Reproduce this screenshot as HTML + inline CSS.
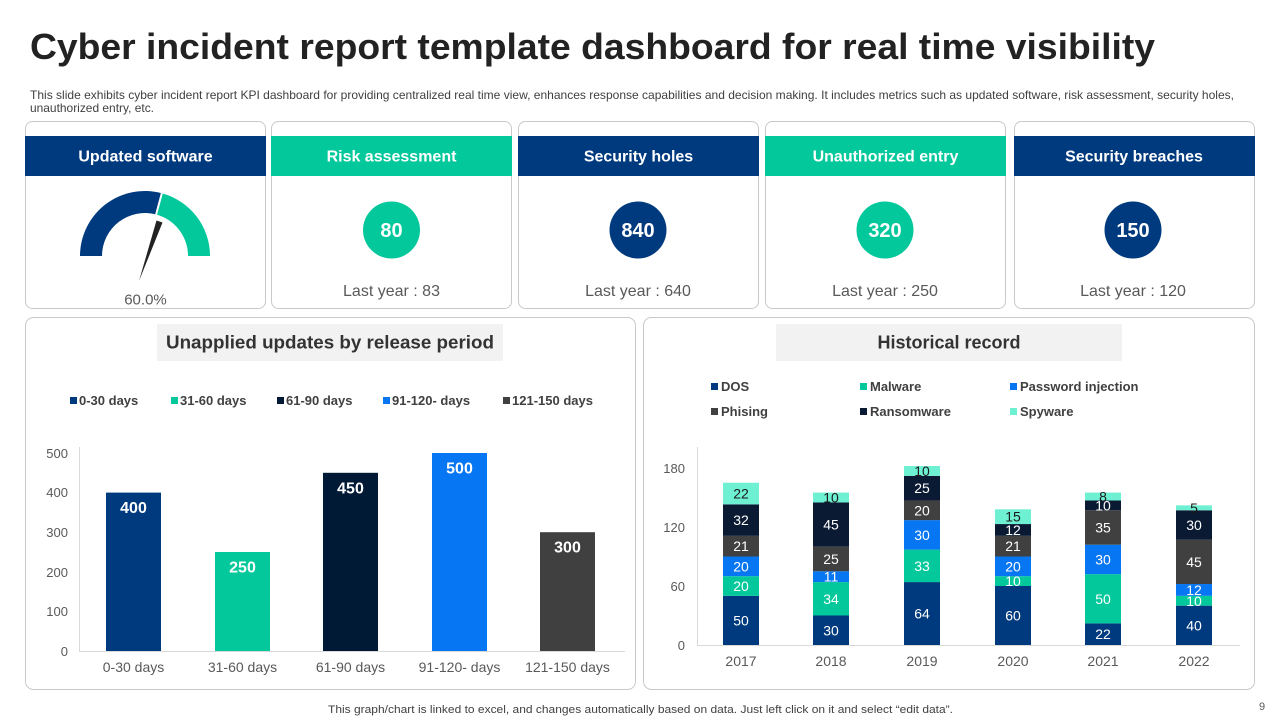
<!DOCTYPE html>
<html><head><meta charset="utf-8"><style>
html,body{margin:0;padding:0;background:#fff;}
svg{display:block;font-family:"Liberation Sans",Arial,sans-serif;}
</style></head><body>
<svg width="1280" height="720" viewBox="0 0 1280 720" xmlns="http://www.w3.org/2000/svg">
<rect width="1280" height="720" fill="#fff"/>
<!-- Title -->
<text x="30" y="59" font-size="36" font-weight="bold" fill="#222" textLength="1125" lengthAdjust="spacingAndGlyphs">Cyber incident report template dashboard for real time visibility</text>
<text x="30" y="99" font-size="12" fill="#404040" textLength="1204" lengthAdjust="spacingAndGlyphs">This slide exhibits cyber incident report KPI  dashboard for providing centralized real time view, enhances response capabilities and decision making. It includes metrics such as updated software, risk assessment, security holes,</text>
<text x="30" y="112" font-size="12" fill="#404040" textLength="124" lengthAdjust="spacingAndGlyphs">unauthorized entry,  etc.</text>

<!-- Cards -->
<g stroke="#c9c9c9" stroke-width="1" fill="#fff">
<rect x="25.5" y="121.5" width="240" height="187" rx="7"/>
<rect x="271.5" y="121.5" width="240" height="187" rx="7"/>
<rect x="518.5" y="121.5" width="240" height="187" rx="7"/>
<rect x="765.5" y="121.5" width="240" height="187" rx="7"/>
<rect x="1014.5" y="121.5" width="240" height="187" rx="7"/>
</g>
<rect x="25" y="136" width="241" height="40" fill="#003A7E"/>
<rect x="271" y="136" width="241" height="40" fill="#03C89B"/>
<rect x="518" y="136" width="241" height="40" fill="#003A7E"/>
<rect x="765" y="136" width="241" height="40" fill="#03C89B"/>
<rect x="1014" y="136" width="241" height="40" fill="#003A7E"/>
<g font-size="16" font-weight="bold" fill="#fff" text-anchor="middle">
<text x="145.5" y="161.5">Updated software</text>
<text x="391.5" y="161.5">Risk assessment</text>
<text x="638.5" y="161.5">Security holes</text>
<text x="885.5" y="161.5">Unauthorized entry</text>
<text x="1134" y="161.5">Security breaches</text>
</g>
<!-- Gauge -->
<path d="M80,256 A65,65 0 0 1 161.82,193.22 L156.13,214.47 A43,43 0 0 0 102,256 Z" fill="#003A7E"/>
<path d="M161.82,193.22 A65,65 0 0 1 210,256 L188,256 A43,43 0 0 0 156.13,214.47 Z" fill="#03C89B"/>
<line x1="161.82" y1="193.22" x2="156.13" y2="214.47" stroke="#fff" stroke-width="2"/>
<polygon points="156.5,220.5 162.5,222.5 139,281" fill="#222"/>
<text x="145.5" y="304.5" font-size="15" fill="#595959" text-anchor="middle">60.0%</text>
<!-- Circles -->
<circle cx="391.5" cy="230" r="28.5" fill="#03C89B"/>
<circle cx="638" cy="230" r="28.5" fill="#003A7E"/>
<circle cx="885" cy="230" r="28.5" fill="#03C89B"/>
<circle cx="1133" cy="230" r="28.5" fill="#003A7E"/>
<g font-size="20" font-weight="bold" fill="#fff" text-anchor="middle">
<text x="391.5" y="237">80</text>
<text x="638" y="237">840</text>
<text x="885" y="237">320</text>
<text x="1133" y="237">150</text>
</g>
<g font-size="16" fill="#595959" text-anchor="middle">
<text x="391.5" y="296">Last year : 83</text>
<text x="638" y="296">Last year : 640</text>
<text x="885" y="296">Last year : 250</text>
<text x="1133" y="296">Last year : 120</text>
</g>

<!-- Bottom panels -->
<rect x="25.5" y="317.5" width="610" height="372" rx="8" fill="#fff" stroke="#c9c9c9"/>
<rect x="643.5" y="317.5" width="611" height="372" rx="8" fill="#fff" stroke="#c9c9c9"/>
<rect x="157" y="324" width="346" height="37" fill="#f2f2f2"/>
<rect x="776" y="324" width="346" height="37" fill="#f2f2f2"/>
<text x="330" y="348.5" font-size="18" font-weight="bold" fill="#333" text-anchor="middle" textLength="328" lengthAdjust="spacingAndGlyphs">Unapplied updates by release period</text>
<text x="949" y="348.5" font-size="18" font-weight="bold" fill="#333" text-anchor="middle">Historical record</text>

<!-- Left chart legend -->
<g font-size="13" font-weight="bold" fill="#404040">
<rect x="70" y="397" width="7" height="7" fill="#003A7E"/><text x="79" y="405">0-30 days</text>
<rect x="171" y="397" width="7" height="7" fill="#03C89B"/><text x="180" y="405">31-60 days</text>
<rect x="277" y="397" width="7" height="7" fill="#001A36"/><text x="286" y="405">61-90 days</text>
<rect x="383" y="397" width="7" height="7" fill="#0776F2"/><text x="392" y="405">91-120- days</text>
<rect x="503" y="397" width="7" height="7" fill="#404040"/><text x="512" y="405">121-150 days</text>
</g>
<!-- Left chart axes -->
<g font-size="13" fill="#595959" text-anchor="end">
<text x="68" y="458">500</text>
<text x="68" y="497">400</text>
<text x="68" y="537">300</text>
<text x="68" y="577">200</text>
<text x="68" y="616">100</text>
<text x="68" y="656">0</text>
</g>
<line x1="79.5" y1="447" x2="79.5" y2="651" stroke="#d9d9d9"/>
<line x1="79" y1="651.5" x2="625" y2="651.5" stroke="#d9d9d9"/>
<rect x="106" y="492.6" width="55" height="158.4" fill="#003A7E"/>
<rect x="215" y="552" width="55" height="99" fill="#03C89B"/>
<rect x="323" y="472.8" width="55" height="178.2" fill="#001A36"/>
<rect x="432" y="453" width="55" height="198" fill="#0776F2"/>
<rect x="540" y="532.2" width="55" height="118.8" fill="#404040"/>
<g font-size="16" font-weight="bold" fill="#fff" text-anchor="middle">
<text x="133.5" y="513">400</text>
<text x="242.5" y="572.5">250</text>
<text x="350.5" y="493.3">450</text>
<text x="459.5" y="473.5">500</text>
<text x="567.5" y="552.7">300</text>
</g>
<g font-size="14" fill="#595959" text-anchor="middle">
<text x="133.5" y="672">0-30 days</text>
<text x="242.5" y="672">31-60 days</text>
<text x="350.5" y="672">61-90 days</text>
<text x="459.5" y="672">91-120- days</text>
<text x="567.5" y="672">121-150 days</text>
</g>

<!-- Right chart legend -->
<g font-size="13" font-weight="bold" fill="#404040">
<rect x="711" y="383" width="7" height="7" fill="#003A7E"/><text x="721" y="391">DOS</text>
<rect x="860" y="383" width="7" height="7" fill="#03C89B"/><text x="870" y="391">Malware</text>
<rect x="1010" y="383" width="7" height="7" fill="#0776F2"/><text x="1020" y="391">Password injection</text>
<rect x="711" y="408" width="7" height="7" fill="#404040"/><text x="721" y="416">Phising</text>
<rect x="860" y="408" width="7" height="7" fill="#0B1A33"/><text x="870" y="416">Ransomware</text>
<rect x="1010" y="408" width="7" height="7" fill="#6EF0D2"/><text x="1020" y="416">Spyware</text>
</g>
<g font-size="13" fill="#595959" text-anchor="end">
<text x="685" y="473">180</text>
<text x="685" y="532">120</text>
<text x="685" y="591">60</text>
<text x="685" y="650">0</text>
</g>
<line x1="697.5" y1="447" x2="697.5" y2="645" stroke="#d9d9d9"/>
<line x1="697" y1="645.5" x2="1240" y2="645.5" stroke="#d9d9d9"/>

<!-- Stacked bars -->
<!-- 2017 -->
<rect x="723" y="595.83" width="36" height="49.17" fill="#003A7E"/>
<rect x="723" y="576.17" width="36" height="19.66" fill="#03C89B"/>
<rect x="723" y="556.5" width="36" height="19.67" fill="#0776F2"/>
<rect x="723" y="535.85" width="36" height="20.65" fill="#404040"/>
<rect x="723" y="504.38" width="36" height="31.47" fill="#0B1A33"/>
<rect x="723" y="482.75" width="36" height="21.63" fill="#6EF0D2"/>
<!-- 2018 -->
<rect x="813" y="615.5" width="36" height="29.5" fill="#003A7E"/>
<rect x="813" y="582.07" width="36" height="33.43" fill="#03C89B"/>
<rect x="813" y="571.25" width="36" height="10.82" fill="#0776F2"/>
<rect x="813" y="546.67" width="36" height="24.58" fill="#404040"/>
<rect x="813" y="502.42" width="36" height="44.25" fill="#0B1A33"/>
<rect x="813" y="492.58" width="36" height="9.84" fill="#6EF0D2"/>
<!-- 2019 -->
<rect x="904" y="582.07" width="36" height="62.93" fill="#003A7E"/>
<rect x="904" y="549.62" width="36" height="32.45" fill="#03C89B"/>
<rect x="904" y="520.12" width="36" height="29.5" fill="#0776F2"/>
<rect x="904" y="500.45" width="36" height="19.67" fill="#404040"/>
<rect x="904" y="475.87" width="36" height="24.58" fill="#0B1A33"/>
<rect x="904" y="466.03" width="36" height="9.84" fill="#6EF0D2"/>
<!-- 2020 -->
<rect x="995" y="586" width="36" height="59" fill="#003A7E"/>
<rect x="995" y="576.17" width="36" height="9.83" fill="#03C89B"/>
<rect x="995" y="556.5" width="36" height="19.67" fill="#0776F2"/>
<rect x="995" y="535.85" width="36" height="20.65" fill="#404040"/>
<rect x="995" y="524.05" width="36" height="11.8" fill="#0B1A33"/>
<rect x="995" y="509.3" width="36" height="14.75" fill="#6EF0D2"/>
<!-- 2021 -->
<rect x="1085" y="623.37" width="36" height="21.63" fill="#003A7E"/>
<rect x="1085" y="574.2" width="36" height="49.17" fill="#03C89B"/>
<rect x="1085" y="544.7" width="36" height="29.5" fill="#0776F2"/>
<rect x="1085" y="510.28" width="36" height="34.42" fill="#404040"/>
<rect x="1085" y="500.45" width="36" height="9.83" fill="#0B1A33"/>
<rect x="1085" y="492.58" width="36" height="7.87" fill="#6EF0D2"/>
<!-- 2022 -->
<rect x="1176" y="605.67" width="36" height="39.33" fill="#003A7E"/>
<rect x="1176" y="595.83" width="36" height="9.84" fill="#03C89B"/>
<rect x="1176" y="584.03" width="36" height="11.8" fill="#0776F2"/>
<rect x="1176" y="539.78" width="36" height="44.25" fill="#404040"/>
<rect x="1176" y="510.28" width="36" height="29.5" fill="#0B1A33"/>
<rect x="1176" y="505.37" width="36" height="4.91" fill="#6EF0D2"/>

<g font-size="14" fill="#fff" text-anchor="middle">
<text x="741" y="625.4">50</text><text x="741" y="591">20</text><text x="741" y="571.3">20</text><text x="741" y="551.2">21</text><text x="741" y="525.1">32</text>
<text x="831" y="635.25">30</text><text x="831" y="603.8">34</text><text x="831" y="581.7">11</text><text x="831" y="564">25</text><text x="831" y="529.5">45</text>
<text x="922" y="618.5">64</text><text x="922" y="570.8">33</text><text x="922" y="539.9">30</text><text x="922" y="515.3">20</text><text x="922" y="493.2">25</text>
<text x="1013" y="620.5">60</text><text x="1013" y="586.1">10</text><text x="1013" y="571.3">20</text><text x="1013" y="551.2">21</text><text x="1013" y="535">12</text>
<text x="1103" y="639.2">22</text><text x="1103" y="603.8">50</text><text x="1103" y="564.45">30</text><text x="1103" y="532.5">35</text><text x="1103" y="510.4">10</text>
<text x="1194" y="630.3">40</text><text x="1194" y="605.75">10</text><text x="1194" y="594.9">12</text><text x="1194" y="566.9">45</text><text x="1194" y="530">30</text>
</g>
<g font-size="14" fill="#1a1a1a" text-anchor="middle">
<text x="741" y="498.6">22</text>
<text x="831" y="502.5">10</text>
<text x="922" y="476">10</text>
<text x="1013" y="521.7">15</text>
<text x="1103" y="501.5">8</text>
<text x="1194" y="512.8">5</text>
</g>
<g font-size="14" fill="#595959" text-anchor="middle">
<text x="741" y="666">2017</text>
<text x="831" y="666">2018</text>
<text x="922" y="666">2019</text>
<text x="1013" y="666">2020</text>
<text x="1103" y="666">2021</text>
<text x="1194" y="666">2022</text>
</g>

<!-- Footer -->
<text x="328" y="713" font-size="11" fill="#404040" textLength="625" lengthAdjust="spacingAndGlyphs">This graph/chart is linked to excel,  and changes automatically based on data. Just left click on it and select “edit data”.</text>
<text x="1259" y="710" font-size="11" fill="#595959">9</text>
</svg>
</body></html>
